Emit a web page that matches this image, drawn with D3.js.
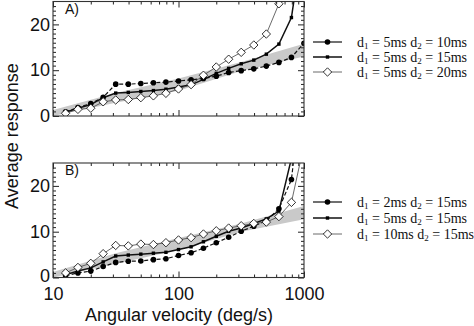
<!DOCTYPE html>
<html>
<head>
<meta charset="utf-8">
<script src="https://cdn.jsdelivr.net/npm/d3@7"></script>
<style>
  html, body { margin: 0; padding: 0; background: #fff; }
  svg { display: block; }
  .ax text { font-family: "Liberation Sans", Arial, sans-serif; font-size: 18px; fill: #111; }
  .ax line { stroke: #222; stroke-width: 1; }
  .ax path { display: none; }
</style>
</head>
<body>
<svg id="chart" width="474" height="326"></svg>
<script>
// Angular velocity sample points (deg/s)
const velocity = [12.6, 15.8, 20, 25.1, 31.6, 39.8, 50.1, 63.1, 79.4, 100,
                  126, 158, 200, 251, 316, 398, 501, 631, 794, 1000];

// Panel A: d1 fixed at 5 ms, d2 varied
const respA_d2_10 = [0.9, 1.85, 2.7, 4.1, 6.95, 6.95, 7.1, 7.25, 7.4, 7.65,
                     7.9, 8.2, 8.7, 9.5, 9.9, 10.3, 10.9, 11.7, 12.8, 15.9];
const respA_d2_15 = [0.8, 1.7, 2.5, 4.0, 5.0, 5.15, 5.35, 5.55, 5.85, 6.35,
                     6.8, 8.0, 9.3, 10.4, 11.4, 12.2, 13.5, 15.7, 21.5, 40];
const respA_d2_20 = [0.6, 1.45, 1.7, 3.1, 3.5, 3.6, 4.0, 4.4, 4.95, 5.9,
                     6.85, 8.9, 10.7, 12.4, 13.9, 15.5, 17.9, 24.5, 28, 60];

// Panel B: d2 fixed at 15 ms, d1 varied
const respB_d1_2  = [0.4, 1.0, 1.4, 2.4, 3.3, 3.55, 3.6, 3.9, 4.1, 4.8,
                     5.4, 6.4, 7.6, 8.8, 10.1, 11.2, 12.4, 15.0, 21.4, 45];
const respB_d1_5  = [0.6, 1.4, 2.1, 3.4, 4.7, 4.9, 5.1, 5.3, 5.5, 6.1,
                     6.7, 7.8, 9.0, 10.1, 10.8, 11.8, 12.8, 14.5, 26, 60];
const respB_d1_10 = [1.0, 2.2, 3.1, 5.2, 7.0, 6.9, 7.3, 7.2, 7.6, 8.2,
                     8.7, 9.5, 10.2, 10.8, 11.3, 11.8, 12.1, 13.3, 16.4, 29];

// Shaded reference band (lower / upper edge)
const bandVelocity = [10, 31.6, 100, 316, 1000];
const bandLowA  = [0, 2.9, 5.5, 9.8, 13.0];
const bandHighA = [1.3, 5.0, 8.2, 11.8, 15.8];
const bandLowB  = [0, 3.0, 6.0, 10.0, 12.7];
const bandHighB = [1.2, 5.3, 8.6, 11.8, 15.6];

// Axis ticks
const yMajor = [0, 10, 20];
const yMinor = [1,2,3,4,5,6,7,8,9,11,12,13,14,15,16,17,18,19,21,22,23,24];
const xMajor = [10, 100, 1000];
const xMinor = [20,30,40,50,60,70,80,90,200,300,400,500,600,700,800,900];

// Legend labels: [d1, d2]
const legendA = [["5", "10"], ["5", "15"], ["5", "20"]];
const legendB = [["2", "15"], ["5", "15"], ["10", "15"]];

const svg = d3.select("#chart");
const left = 53, right = 304;
const x = d3.scaleLog().domain([10, 1000]).range([left, right]);

const styles = [
  { kind: "circle",  width: 1.2, dash: "4,2.2", color: "#111" },
  { kind: "square",  width: 1.5, dash: null,    color: "#111" },
  { kind: "diamond", width: 0.8, dash: null,    color: "#444" }
];

function drawMarker(g, kind, cx, cy) {
  if (kind === "circle") {
    g.append("circle").attr("cx", cx).attr("cy", cy).attr("r", 2.8).attr("fill", "#000");
  } else if (kind === "square") {
    g.append("rect").attr("x", cx - 1.7).attr("y", cy - 1.7)
      .attr("width", 3.4).attr("height", 3.4).attr("fill", "#000");
  } else {
    const s = 4.2;
    g.append("path")
      .attr("d", `M${cx},${cy - s}L${cx + s},${cy}L${cx},${cy + s}L${cx - s},${cy}Z`)
      .attr("fill", "#fff").attr("stroke", "#000").attr("stroke-width", 0.8);
  }
}

function panel(cfg) {
  const y = d3.scaleLinear().domain([0, 25]).range([cfg.bottom, cfg.top]);
  const g = svg.append("g");

  const clipId = "clip" + cfg.name;
  svg.append("clipPath").attr("id", clipId)
    .append("rect").attr("x", left).attr("y", cfg.top)
    .attr("width", right - left).attr("height", cfg.bottom - cfg.top);

  const plot = g.append("g").attr("clip-path", `url(#${clipId})`);

  // shaded band
  const bandData = bandVelocity.map((v, i) => ({ v, lo: cfg.bandLow[i], hi: cfg.bandHigh[i] }));
  plot.append("path")
    .datum(bandData)
    .attr("d", d3.area().x(d => x(d.v)).y0(d => y(d.lo)).y1(d => y(d.hi)))
    .attr("fill", "#c9c9c9");

  // series lines and markers
  cfg.series.forEach((vals, si) => {
    const st = styles[si];
    const pts = velocity.map((v, i) => ({ v, r: vals[i] }));
    plot.append("path")
      .datum(pts)
      .attr("d", d3.line().x(d => x(d.v)).y(d => y(d.r)))
      .attr("fill", "none")
      .attr("stroke", st.color)
      .attr("stroke-width", st.width)
      .attr("stroke-dasharray", st.dash);
  });
  cfg.series.forEach((vals, si) => {
    const st = styles[si];
    const mg = plot.append("g");
    velocity.forEach((v, i) => drawMarker(mg, st.kind, x(v), y(vals[i])));
  });

  // axes: ticks drawn inward on all four sides
  const ax = g.append("g").attr("class", "ax");
  const yl = ax.append("g").attr("transform", `translate(${left},0)`)
    .call(d3.axisLeft(y).tickValues(yMajor).tickSize(-6).tickPadding(3).tickFormat(d3.format("d")));
  if (cfg.xLabels) {
    // lift the zero label a touch so it clears the "10" below it
    yl.selectAll(".tick text").filter(d => d === 0).attr("dy", "0.2em");
  }
  ax.append("g").attr("transform", `translate(${left},0)`)
    .call(d3.axisLeft(y).tickValues(yMinor).tickSize(-3).tickFormat(""));
  ax.append("g").attr("transform", `translate(${right},0)`)
    .call(d3.axisRight(y).tickValues(yMajor).tickSize(-6).tickFormat(""));
  ax.append("g").attr("transform", `translate(${right},0)`)
    .call(d3.axisRight(y).tickValues(yMinor).tickSize(-3).tickFormat(""));
  ax.append("g").attr("transform", `translate(0,${cfg.bottom})`)
    .call(d3.axisBottom(x).tickValues(xMajor).tickSize(-6).tickPadding(10)
      .tickFormat(cfg.xLabels ? d3.format("d") : ""));
  ax.append("g").attr("transform", `translate(0,${cfg.bottom})`)
    .call(d3.axisBottom(x).tickValues(xMinor).tickSize(-3).tickFormat(""));
  ax.append("g").attr("transform", `translate(0,${cfg.top})`)
    .call(d3.axisTop(x).tickValues(xMajor).tickSize(-6).tickFormat(""));
  ax.append("g").attr("transform", `translate(0,${cfg.top})`)
    .call(d3.axisTop(x).tickValues(xMinor).tickSize(-3).tickFormat(""));

  // frame
  g.append("rect").attr("x", left).attr("y", cfg.top)
    .attr("width", right - left).attr("height", cfg.bottom - cfg.top)
    .attr("fill", "none").attr("stroke", "#333").attr("stroke-width", 1.1);

  // panel letter
  g.append("text").attr("x", 65).attr("y", cfg.top + 12)
    .attr("font-family", "Liberation Sans, Arial, sans-serif")
    .attr("font-size", 14).attr("fill", "#111").text(cfg.name + ")");

  // legend
  const lg = svg.append("g");
  cfg.legend.forEach((lab, i) => {
    const st = styles[i];
    const ly = cfg.legendY[i];
    lg.append("line").attr("x1", 313).attr("x2", 342).attr("y1", ly).attr("y2", ly)
      .attr("stroke", st.color).attr("stroke-width", st.width);
    drawMarker(lg, st.kind, 327.5, ly);
    const t = lg.append("text").attr("x", 357).attr("y", ly + 4.5)
      .attr("font-family", "Liberation Serif, Times New Roman, serif")
      .attr("font-size", 14).attr("fill", "#111");
    t.append("tspan").text("d");
    t.append("tspan").attr("font-size", 9).attr("dy", 2.5).text("1");
    t.append("tspan").attr("dy", -2.5).text(` = ${lab[0]}ms d`);
    t.append("tspan").attr("font-size", 9).attr("dy", 2.5).text("2");
    t.append("tspan").attr("dy", -2.5).text(` = ${lab[1]}ms`);
  });
}

panel({
  name: "A", top: 1.5, bottom: 116, xLabels: false,
  series: [respA_d2_10, respA_d2_15, respA_d2_20],
  bandLow: bandLowA, bandHigh: bandHighA,
  legend: legendA, legendY: [42, 57, 72]
});
panel({
  name: "B", top: 163, bottom: 277.5, xLabels: true,
  series: [respB_d1_2, respB_d1_5, respB_d1_10],
  bandLow: bandLowB, bandHigh: bandHighB,
  legend: legendB, legendY: [202, 218, 234]
});

// axis titles
svg.append("text")
  .attr("x", 179).attr("y", 321).attr("text-anchor", "middle")
  .attr("font-family", "Liberation Sans, Arial, sans-serif").attr("font-size", 18).attr("fill", "#111")
  .text("Angular velocity (deg/s)");
svg.append("text")
  .attr("transform", "translate(18,136) rotate(-90)").attr("text-anchor", "middle")
  .attr("font-family", "Liberation Sans, Arial, sans-serif").attr("font-size", 18).attr("fill", "#111")
  .text("Average response");
</script>
</body>
</html>
